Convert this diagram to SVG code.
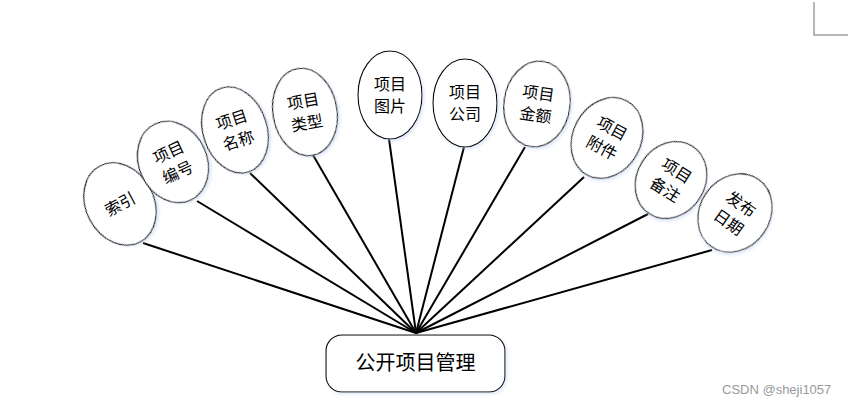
<svg xmlns="http://www.w3.org/2000/svg" width="858" height="409" viewBox="0 0 858 409">
<defs>
<filter id="sh" x="-20%" y="-20%" width="150%" height="150%">
<feDropShadow dx="2" dy="2" stdDeviation="1.5" flood-color="#b8cdef" flood-opacity="0.4"/>
</filter>
<style>
.e{fill:#fff;stroke:#000;stroke-width:1.1;filter:url(#sh)}
.t{font-family:"Noto Sans CJK SC","Noto Sans CJK JP",sans-serif;font-size:16px;fill:#000;text-anchor:middle}
.c line{stroke:#000;stroke-width:2}
</style>
</defs>
<rect width="858" height="409" fill="#fff"/>
<path d="M814 2V35H848" fill="none" stroke="#a0a0a0" stroke-width="1.5"/>
<g class="c" id="connectors">
<line x1="143" y1="243" x2="416" y2="333"/>
<line x1="197" y1="201" x2="416" y2="333"/>
<line x1="250" y1="173" x2="416" y2="333"/>
<line x1="313" y1="155" x2="416" y2="333"/>
<line x1="389" y1="139" x2="416" y2="333"/>
<line x1="464" y1="147" x2="416" y2="333"/>
<line x1="525" y1="147" x2="416" y2="333"/>
<line x1="584" y1="177" x2="416" y2="333"/>
<line x1="648" y1="214" x2="416" y2="333"/>
<line x1="712" y1="250" x2="416" y2="333"/>
</g>
<g id="n1" transform="translate(120,204) rotate(-28)">
<ellipse class="e" rx="34" ry="43"/>
<text class="t" y="6">索引</text>
</g>
<g id="n2" transform="translate(173,162) rotate(-25)">
<ellipse class="e" rx="34" ry="42"/>
<text class="t" y="-5">项目</text><text class="t" y="17">编号</text>
</g>
<g id="n3" transform="translate(235,130) rotate(-18)">
<ellipse class="e" rx="32" ry="44"/>
<text class="t" y="-5">项目</text><text class="t" y="17">名称</text>
</g>
<g id="n4" transform="translate(305,112) rotate(-10)">
<ellipse class="e" rx="32" ry="44"/>
<text class="t" y="-5">项目</text><text class="t" y="17">类型</text>
</g>
<g id="n5" transform="translate(390,95)">
<ellipse class="e" rx="32" ry="44"/>
<text class="t" y="-5">项目</text><text class="t" y="17">图片</text>
</g>
<g id="n6" transform="translate(465,103)">
<ellipse class="e" rx="32" ry="44"/>
<text class="t" y="-5">项目</text><text class="t" y="17">公司</text>
</g>
<g id="n7" transform="translate(537,104) rotate(8)">
<ellipse class="e" rx="33" ry="43"/>
<text class="t" y="-5">项目</text><text class="t" y="17">金额</text>
</g>
<g id="n8" transform="translate(607,138) rotate(28)">
<ellipse class="e" rx="34" ry="42"/>
<text class="t" y="-5">项目</text><text class="t" y="17">附件</text>
</g>
<g id="n9" transform="translate(671,180) rotate(32)">
<ellipse class="e" rx="34" ry="40"/>
<text class="t" y="-5">项目</text><text class="t" y="17">备注</text>
</g>
<g id="n10" transform="translate(735,213) rotate(35)">
<ellipse class="e" rx="35" ry="41"/>
<text class="t" y="-5">发布</text><text class="t" y="17">日期</text>
</g>
<g id="root">
<rect x="326" y="335" width="179" height="57" rx="16" fill="#fff" stroke="#000" stroke-width="1.1" filter="url(#sh)"/>
<text class="t" x="415.5" y="370" style="font-size:20px">公开项目管理</text>
</g>
<text x="722" y="394" font-family="Liberation Sans, Arial, sans-serif" font-size="13" fill="#999">CSDN @sheji1057</text>
</svg>
